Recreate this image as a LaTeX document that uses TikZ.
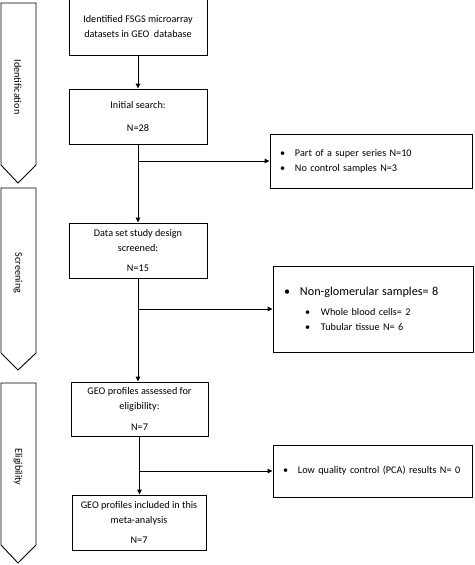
\documentclass[tikz,border=0pt]{standalone}
\usepackage{fontspec}
\setmainfont{Carlito}
\usetikzlibrary{arrows.meta}
\begin{document}
\begin{tikzpicture}[x=1pt,y=-1pt,
  font=\fontsize{10.2}{15}\selectfont,
  box/.style={draw, line width=0.9pt, align=center, inner sep=0pt},
  side/.style={draw, line width=0.9pt, align=left, inner ysep=0pt},
  arr/.style={-{Triangle[length=5pt,width=4.5pt]}, line width=0.9pt},
  stage/.style={draw, line width=0.9pt},
  stagelabel/.style={rotate=-90, inner sep=0pt}]
\useasboundingbox (0,0) rectangle (474,565);

% stage arrows
\draw[stage] (1,3) -- (36,3) -- (36,165) -- (18,183) -- (1,165) -- cycle;
\draw[stage] (1,188) -- (36,188) -- (36,353) -- (18,370) -- (1,353) -- cycle;
\draw[stage] (1,383) -- (36,383) -- (36,545) -- (18,563) -- (1,545) -- cycle;
\node[stagelabel] (l1) at (18,87) {Identification};
\node[stagelabel] (l2) at (18,273) {Screening};
\node[stagelabel] (l3) at (18,467) {Eligibility};

% main boxes
\node[box, minimum width=138pt, minimum height=58pt] (b1) at (138,26)
  {Identified FSGS microarray\\ datasets in GEO\ \ database};
\node[box, minimum width=138pt, minimum height=55pt] (b2) at (138,116.5)
  {Initial search:\\[8pt] N=28};
\node[box, minimum width=138pt, minimum height=55pt] (b3) at (138,250.5)
  {Data set study design\\ screened:\\[5pt] N=15};
\node[box, minimum width=137pt, minimum height=54pt] (b4) at (139.5,409)
  {GEO profiles assessed for\\ eligibility:\\[6pt] N=7};
\node[box, minimum width=134pt, minimum height=55pt] (b5) at (139,522.5)
  {GEO profiles included in this\\ meta-analysis\\[5pt] N=7};

% side boxes
\node[side, inner xsep=10pt, text width=182pt, minimum height=54pt] (s1) at (371,161)
  {\makebox[15pt][l]{\textbullet}Part of a super series N=10\\
   \makebox[15pt][l]{\textbullet}No control samples N=3};
\node[side, inner xsep=11pt, text width=178pt, minimum height=86pt] (s2) at (373,309)
  {{\fontsize{12.2}{15}\selectfont\makebox[16pt][l]{\textbullet}Non-glomerular samples= 8}\\[5pt]
   \hspace{21pt}\makebox[16pt][l]{\textbullet}Whole blood cells= 2\\
   \hspace{21pt}\makebox[16pt][l]{\textbullet}Tubular tissue N= 6};
\node[side, inner xsep=10pt, text width=179pt, minimum height=52pt] (s3) at (372.5,471)
  {\makebox[15pt][l]{\textbullet}Low quality control (PCA) results N= 0};
\foreach \s in {s1,s2,s3}
  \draw[line width=1.8pt] (\s.north east) -- (\s.south east);

% connectors
\draw[arr] (b1.south) -- (b2.north);
\draw[arr] (b2.south) -- (b2.south |- b3.north);
\draw[arr] (b3.south) -- (b3.south |- b4.north);
\draw[arr] (b4.south) -- (b4.south |- b5.north);
\coordinate (j1) at (b2.south |- s1.west);
\coordinate (j2) at (b3.south |- s2.west);
\coordinate (j3) at (b4.south |- s3.west);
\draw[arr] (j1) -- (s1.west);
\draw[arr] (j2) -- (s2.west);
\draw[arr] (j3) -- (s3.west);
\end{tikzpicture}
\end{document}
